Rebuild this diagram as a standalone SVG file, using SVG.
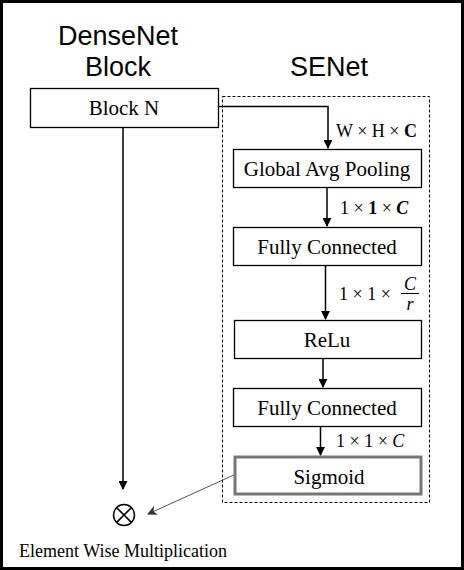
<svg xmlns="http://www.w3.org/2000/svg" width="464" height="570" viewBox="0 0 464 570">
<defs>
<style>
.box{fill:#fff;stroke:#000;stroke-width:1.3}
.t{font-family:"Liberation Serif",serif;fill:#000}
.h{font-family:"Liberation Sans",Arial,sans-serif;fill:#000;font-size:27px;text-anchor:middle}
.c{stroke:#000;stroke-width:1.5;fill:none}
</style>
<marker id="ah" viewBox="0 0 10 10" refX="9" refY="5" markerWidth="9" markerHeight="9" markerUnits="userSpaceOnUse" orient="auto">
<path d="M0,0 L10,5 L0,10 Z" fill="#000"/>
</marker>
<marker id="ag" viewBox="0 0 10 10" refX="9" refY="5" markerWidth="10" markerHeight="10" markerUnits="userSpaceOnUse" orient="auto">
<path d="M0,0 L10,5 L0,10 L3,5 Z" fill="#333"/>
</marker>
</defs>
<rect x="0" y="0" width="464" height="570" fill="#fff"/>
<rect x="1.5" y="1.5" width="461" height="567" fill="none" stroke="#000" stroke-width="3"/>
<text class="h" x="118" y="45">DenseNet</text>
<text class="h" x="118" y="76">Block</text>
<text class="h" x="329" y="76">SENet</text>
<rect x="222.5" y="96.5" width="207" height="406" fill="none" stroke="#000" stroke-width="1" stroke-dasharray="3,2"/>
<g id="connectors">
<path class="c" d="M218,106.5 H328 V148" marker-end="url(#ah)"/>
<path class="c" d="M327,188 V226" marker-end="url(#ah)"/>
<path class="c" d="M325.5,266 V319" marker-end="url(#ah)"/>
<path class="c" d="M323,358 V387" marker-end="url(#ah)"/>
<path class="c" d="M320.5,427 V455" marker-end="url(#ah)"/>
<path class="c" d="M123,127 V489" marker-end="url(#ah)"/>
<path d="M236,474 L148,514" stroke="#555" stroke-width="1" fill="none" marker-end="url(#ag)"/>
<text class="t" font-size="18" x="336" y="137">W × H × <tspan font-weight="bold">C</tspan></text>
<text class="t" font-size="18" x="340" y="214">1 × <tspan font-weight="bold">1</tspan> × <tspan font-weight="bold" font-style="italic">C</tspan></text>
<text class="t" font-size="18" x="339" y="300">1 × 1 ×</text>
<text class="t" font-size="18" x="410" y="290" text-anchor="middle" font-style="italic">C</text>
<line x1="401" y1="293.5" x2="419" y2="293.5" stroke="#000" stroke-width="1"/>
<text class="t" font-size="18" x="410" y="310" text-anchor="middle" font-style="italic">r</text>
<text class="t" font-size="18" x="336" y="447">1 × 1 × <tspan font-style="italic">C</tspan></text>
</g>
<g id="blockN">
<rect class="box" x="30.5" y="88.5" width="188" height="39"/>
<text class="t" font-size="21" x="124" y="115" text-anchor="middle">Block N</text>
</g>
<g id="gap">
<rect class="box" x="233.5" y="149.5" width="188" height="38"/>
<text class="t" font-size="21" x="327" y="176" text-anchor="middle">Global Avg Pooling</text>
</g>
<g id="fc1">
<rect class="box" x="233.5" y="227.5" width="188" height="38"/>
<text class="t" font-size="21" x="327" y="254" text-anchor="middle">Fully Connected</text>
</g>
<g id="relu">
<rect class="box" x="234.5" y="320.5" width="187" height="38"/>
<text class="t" font-size="21" x="327" y="347" text-anchor="middle">ReLu</text>
</g>
<g id="fc2">
<rect class="box" x="233.5" y="388.5" width="188" height="38"/>
<text class="t" font-size="21" x="327" y="415" text-anchor="middle">Fully Connected</text>
</g>
<g id="sigmoid">
<rect x="235" y="457" width="186" height="37" fill="#fff" stroke="#777" stroke-width="3"/>
<text class="t" font-size="21" x="329" y="484" text-anchor="middle">Sigmoid</text>
</g>
<g id="mult">
<circle cx="124" cy="515" r="10.5" fill="none" stroke="#000" stroke-width="1.5"/>
<path d="M116.6,507.6 L131.4,522.4 M131.4,507.6 L116.6,522.4" stroke="#000" stroke-width="1.5"/>
<text class="t" font-size="18" x="19" y="557">Element Wise Multiplication</text>
</g>
</svg>
